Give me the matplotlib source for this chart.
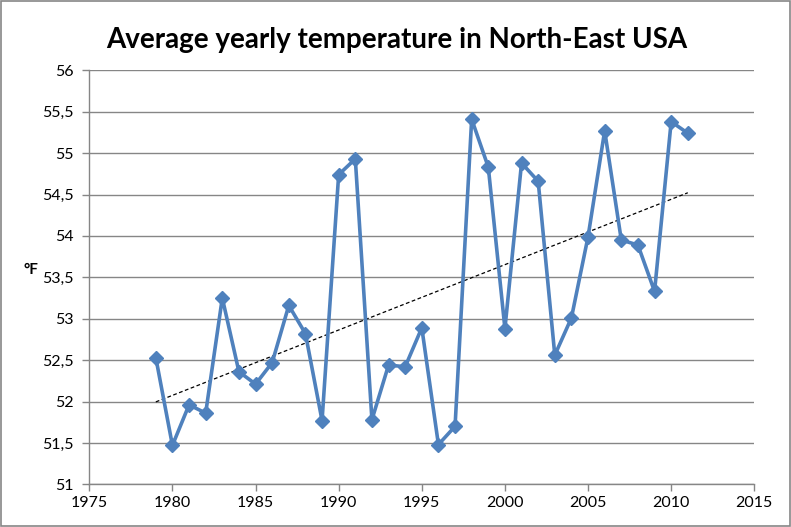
import numpy as np
import matplotlib
matplotlib.use("Agg")
import matplotlib.pyplot as plt
from matplotlib.ticker import FuncFormatter, MultipleLocator

# Jährliche Durchschnittstemperatur (°F)
years = list(range(1979, 2012))
temps = [52.53, 51.47, 51.96, 51.86, 53.25, 52.36, 52.21, 52.47, 53.16, 52.82,
         51.77, 54.74, 54.93, 51.78, 52.44, 52.42, 52.89, 51.48, 51.70, 55.41,
         54.83, 52.88, 54.88, 54.66, 52.56, 53.01, 53.99, 55.27, 53.95, 53.89,
         53.33, 55.38, 55.24]

title = "Average yearly temperature in North-East USA"
ylabel = "°F"

plt.rcParams['font.family'] = ['Lato', 'DejaVu Sans']

fig = plt.figure(figsize=(7.91, 5.27), dpi=100)
ax = fig.add_axes([0.1129, 0.0810, 0.8407, 0.7856])

grey = '#868686'
ax.plot(years, temps, color='#4F81BD', linewidth=2.6, marker='D', markersize=7.5,
        zorder=3)

# linear trend line
coef = np.polyfit(years, temps, 1)
trend = np.polyval(coef, [years[0], years[-1]])
ax.plot([years[0], years[-1]], trend, color='black', linestyle=(0, (3, 2)),
        linewidth=0.9, zorder=2)

ax.set_xlim(1975, 2015)
ax.set_ylim(51, 56)
ax.xaxis.set_major_locator(MultipleLocator(5))
ax.yaxis.set_major_locator(MultipleLocator(0.5))
ax.yaxis.set_major_formatter(FuncFormatter(lambda v, p: f"{v:g}".replace('.', ',')))
ax.grid(axis='y', color=grey, linewidth=1)
ax.set_axisbelow(True)
for s in ['top', 'right']:
    ax.spines[s].set_visible(False)
for s in ['left', 'bottom']:
    ax.spines[s].set_color(grey)
    ax.spines[s].set_linewidth(1)
ax.tick_params(axis='both', colors=grey, length=5, width=1, labelsize=11.5,
               labelcolor='black')
ax.tick_params(axis='y', pad=6)

ax.set_ylabel(ylabel, rotation=0, fontsize=11, fontweight='bold', labelpad=6)
ax.yaxis.set_label_coords(-0.088, 0.5)

fig.text(0.5015, 0.925, title, ha='center', va='center', fontsize=20,
         fontweight='bold')

fig.patches.append(plt.Rectangle((0.001, 0.001), 0.998, 0.998, transform=fig.transFigure,
                                 fill=False, edgecolor=grey, linewidth=1.2))

plt.savefig('out.png', dpi=100)
